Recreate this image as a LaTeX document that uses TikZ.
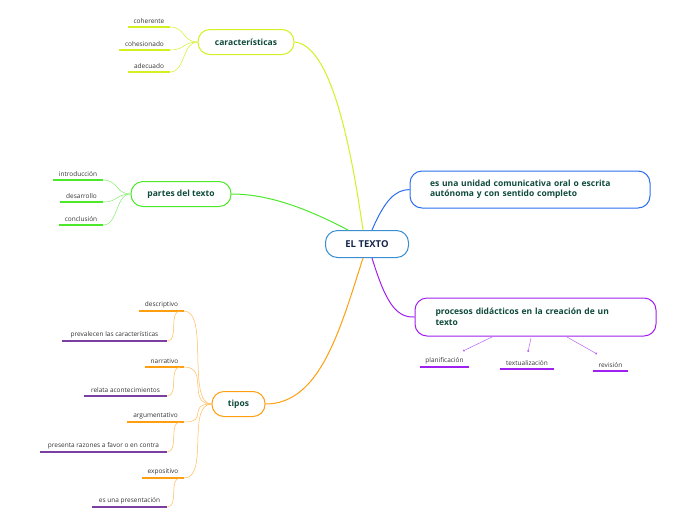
\documentclass[tikz,border=0pt]{standalone}
\usepackage{fontspec}
\setmainfont{Open Sans}
\usetikzlibrary{arrows.meta}
\definecolor{cY}{HTML}{D4F023}
\definecolor{cG}{HTML}{4CE82A}
\definecolor{cO}{HTML}{FF9E0F}
\definecolor{cB}{HTML}{2B6EF0}
\definecolor{cP}{HTML}{A020F0}
\definecolor{cV}{HTML}{7A3FA0}
\definecolor{cT}{HTML}{0E4A3A}
\definecolor{cC}{HTML}{3A8FD0}
\definecolor{cN}{HTML}{15254A}
\newcommand{\myleaf}[6]{%
  \node[leaf, minimum width={#3-#2}, anchor=south] (#1) at ({(#2+#3)/2},#4) {#6};
  \draw[#5, line width=1.6pt] (#1.south west) -- (#1.south east);}
\begin{document}
\begin{tikzpicture}[x=1pt,y=-1pt,
  leaf/.style={inner xsep=1.5pt, inner ysep=3pt, font=\fontsize{6.5}{7.5}\selectfont, text=black!80},
  branch/.style={draw, rounded corners=12pt, line width=1pt, font=\bfseries\fontsize{8.5}{10.5}\selectfont, text=cT, align=left},
  con/.style={line width=1pt},
  sub/.style={line width=0.5pt}]
\useasboundingbox (0,0) rectangle (696,520);
\node[branch, draw=cC, fill=white, minimum width=83pt, minimum height=27pt, text=cN, font=\bfseries\fontsize{9.5}{11}\selectfont] (c) at (367,244) {EL TEXTO};
\node[branch, draw=cY, minimum width=96pt, minimum height=25pt] (car) at (246,42) {características};
\node[branch, draw=cG, minimum width=100pt, minimum height=25pt] (par) at (181,194) {partes del texto};
\node[branch, draw=cO, minimum width=53pt, minimum height=25pt] (tip) at (238.5,404) {tipos};
\node[branch, draw=cB, minimum width=240pt, minimum height=37pt, text width=200pt] (def) at (530,189.5) {es una unidad comunicativa oral o escrita autónoma y con sentido completo};
\node[branch, draw=cP, minimum width=241pt, minimum height=38pt, text width=200pt] (pro) at (535.5,317) {procesos didácticos en la creación de un\\texto};
% main connectors
\draw[con, cY] (c.north) ++(-4,0) .. controls (350,140) and (330,45) .. (car.east);
\draw[con, cG] (c.north west) ++(23,0) .. controls (310,210) and (270,194) .. (par.east);
\draw[con, cO] (c.south) ++(-4,0) .. controls (340,330) and (320,404) .. (tip.east);
\draw[con, cB] (c.north) ++(5,0) .. controls (385,200) and (395,190) .. (def.west);
\draw[con, cP] (c.south) ++(5,0) .. controls (385,300) and (395,318) .. (pro.west);
% características leaves
\myleaf{l1}{128}{170}{27}{cY}{coherente}
\myleaf{l2}{119}{170}{50}{cY}{cohesionado}
\myleaf{l3}{128}{170}{72}{cY}{adecuado}
\foreach \n in {l1,l2,l3} \draw[sub, cY] (car.west) .. controls +(-15,0) and +(15,0) .. (\n.south east);
% partes leaves
\myleaf{p1}{53}{103}{180}{cG}{introducción}
\myleaf{p2}{60}{103}{202}{cG}{desarrollo}
\myleaf{p3}{59}{103}{225}{cG}{conclusión}
\foreach \n in {p1,p2,p3} \draw[sub, cG!70] (par.west) .. controls +(-15,0) and +(15,0) .. (\n.south east);
% tipos leaves
\myleaf{t1}{139}{184}{311}{cO}{descriptivo}
\myleaf{t2}{145}{184}{367}{cO}{narrativo}
\myleaf{t3}{127}{184}{422}{cO}{argumentativo}
\myleaf{t4}{142}{184}{478}{cO}{expositivo}
\myleaf{s1}{62}{167}{341}{cV}{prevalecen las características}
\myleaf{s2}{84}{167}{396}{cV}{relata acontecimientos}
\myleaf{s3}{40}{167}{452}{cV}{presenta razones a favor o en contra}
\myleaf{s4}{92}{167}{507}{cV}{es una presentación}
\foreach \n in {t1,t2,t3,t4} \draw[sub, cO!70] (tip.west) .. controls +(-25,0) and +(25,0) .. (\n.south east);
\foreach \a/\b in {t1/s1,t2/s2,t3/s3,t4/s4} \draw[sub, cO!70] (\a.south east) ++(-4,0) .. controls +(-12,0) and +(12,0) .. (\b.south east);
% procesos leaves
\myleaf{r1}{420}{469}{367}{cP}{planificación}
\myleaf{r2}{500}{554}{369}{cP}{textualización}
\myleaf{r3}{593}{628}{371}{cP}{revisión}
\coordinate (a1) at (492,337); \coordinate (a2) at (531,338); \coordinate (a3) at (567,337);
\coordinate (e1) at (463,351); \coordinate (e2) at (528,352); \coordinate (e3) at (597,354);
\draw[sub, cP!70, -{Circle[length=2pt]}] (a1) -- (e1);
\draw[sub, cP!70, -{Circle[length=2pt]}] (a2) -- (e2);
\draw[sub, cP!70, -{Circle[length=2pt]}] (a3) -- (e3);
\end{tikzpicture}
\end{document}
